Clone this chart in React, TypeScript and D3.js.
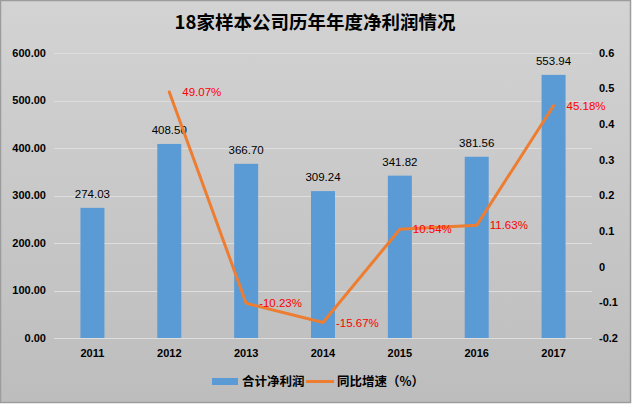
import React, { useEffect, useRef } from 'react';
import * as d3 from 'd3';

const years = ['2011', '2012', '2013', '2014', '2015', '2016', '2017'];
const netProfit = [274.03, 408.5, 366.7, 309.24, 341.82, 381.56, 553.94];
// growth rate, first year has no previous value
const growthRate = [null, 0.4907, -0.1023, -0.1567, 0.1054, 0.1163, 0.4518];
const leftTicks = [0, 100, 200, 300, 400, 500, 600];
const rightTicks = [-0.2, -0.1, 0, 0.1, 0.2, 0.3, 0.4, 0.5, 0.6];

const App = () => {
    const ref = useRef(null);

    useEffect(() => {
        const width = 632;
        const height = 404;
        const plot = { left: 54, right: 592, top: 53, bottom: 338 };
        const numFont = '"Liberation Sans", Arial, sans-serif';
        const cjkFont = '"Noto Sans CJK SC", "Noto Sans", sans-serif';

        const x = d3.scaleBand().domain(years).range([plot.left, plot.right]);
        const yLeft = d3.scaleLinear().domain([0, 600]).range([plot.bottom, plot.top]);
        const yRight = d3.scaleLinear().domain([-0.2, 0.6]).range([plot.bottom, plot.top]);
        const barWidth = 24;

        const svg = d3.select(ref.current);
        svg.selectAll('*').remove();
        svg.attr('width', width).attr('height', height);

        const grad = svg.append('defs').append('linearGradient')
            .attr('id', 'bg').attr('x1', 0).attr('y1', 0).attr('x2', 0).attr('y2', 1);
        grad.append('stop').attr('offset', '0%').attr('stop-color', '#d3d3d3');
        grad.append('stop').attr('offset', '100%').attr('stop-color', '#bdbdbd');

        svg.append('rect')
            .attr('x', 0.5).attr('y', 0.5)
            .attr('width', width - 2).attr('height', height - 2)
            .attr('fill', 'url(#bg)')
            .attr('stroke', '#9c9c9c')
            .attr('stroke-width', 1.5);

        // title
        svg.append('text')
            .attr('x', 315).attr('y', 29)
            .attr('text-anchor', 'middle')
            .style('font-family', cjkFont)
            .style('font-weight', 'bold')
            .style('font-size', '18.5px')
            .attr('fill', '#000')
            .text('18家样本公司历年年度净利润情况');

        // grid lines
        svg.append('g')
            .selectAll('line')
            .data(leftTicks)
            .join('line')
            .attr('x1', plot.left).attr('x2', plot.right)
            .attr('y1', d => Math.round(yLeft(d)) + 0.5)
            .attr('y2', d => Math.round(yLeft(d)) + 0.5)
            .attr('stroke', '#dedede')
            .attr('stroke-width', 1);

        // left axis labels
        svg.append('g')
            .selectAll('text')
            .data(leftTicks)
            .join('text')
            .attr('x', 46)
            .attr('y', d => yLeft(d))
            .attr('dy', '0.35em')
            .attr('text-anchor', 'end')
            .style('font-family', numFont)
            .style('font-weight', 'bold')
            .style('font-size', '11px')
            .text(d => d.toFixed(2));

        // right axis labels
        svg.append('g')
            .selectAll('text')
            .data(rightTicks)
            .join('text')
            .attr('x', 599)
            .attr('y', d => yRight(d))
            .attr('dy', '0.35em')
            .style('font-family', numFont)
            .style('font-weight', 'bold')
            .style('font-size', '11px')
            .text(d => (Math.abs(d) < 1e-9 ? '0' : String(+d.toFixed(1))));

        // x axis labels
        svg.append('g')
            .selectAll('text')
            .data(years)
            .join('text')
            .attr('x', d => x(d) + x.bandwidth() / 2)
            .attr('y', 353)
            .attr('dy', '0.35em')
            .attr('text-anchor', 'middle')
            .style('font-family', numFont)
            .style('font-weight', 'bold')
            .style('font-size', '11px')
            .text(d => d);

        // bars
        svg.append('g')
            .selectAll('rect')
            .data(netProfit)
            .join('rect')
            .attr('x', (d, i) => x(years[i]) + x.bandwidth() / 2 - barWidth / 2)
            .attr('y', d => yLeft(d))
            .attr('width', barWidth)
            .attr('height', d => yLeft(0) - yLeft(d))
            .attr('fill', '#5b9bd5');

        svg.append('g')
            .selectAll('text')
            .data(netProfit)
            .join('text')
            .attr('x', (d, i) => x(years[i]) + x.bandwidth() / 2)
            .attr('y', d => yLeft(d) - 10)
            .attr('text-anchor', 'middle')
            .style('font-family', numFont)
            .style('font-size', '11.5px')
            .attr('fill', '#000')
            .text(d => d.toFixed(2));

        // growth line
        const points = growthRate
            .map((v, i) => ({ year: years[i], v }))
            .filter(d => d.v !== null);

        const line = d3.line()
            .x(d => x(d.year) + x.bandwidth() / 2)
            .y(d => yRight(d.v));

        svg.append('path')
            .datum(points)
            .attr('d', line)
            .attr('fill', 'none')
            .attr('stroke', '#ed7d31')
            .attr('stroke-width', 3)
            .attr('stroke-linejoin', 'round')
            .attr('stroke-linecap', 'round');

        svg.append('g')
            .selectAll('text')
            .data(points)
            .join('text')
            .attr('x', d => x(d.year) + x.bandwidth() / 2 + 13)
            .attr('y', d => yRight(d.v))
            .attr('dy', '0.35em')
            .style('font-family', numFont)
            .style('font-size', '11.5px')
            .attr('fill', '#ff0000')
            .text(d => (d.v * 100).toFixed(2) + '%');

        // legend
        const legend = svg.append('g').style('font-family', cjkFont)
            .style('font-weight', 'bold').style('font-size', '12.5px');
        legend.append('rect')
            .attr('x', 212).attr('y', 378).attr('width', 26).attr('height', 7)
            .attr('fill', '#5b9bd5');
        legend.append('text').attr('x', 242).attr('y', 381.5).attr('dy', '0.35em')
            .text('合计净利润');
        legend.append('line')
            .attr('x1', 306).attr('x2', 334).attr('y1', 381.5).attr('y2', 381.5)
            .attr('stroke', '#ed7d31').attr('stroke-width', 3);
        legend.append('text').attr('x', 337).attr('y', 381.5).attr('dy', '0.35em')
            .text('同比增速（%）');
    }, []);

    return (
        <div style={{ position: 'absolute', left: 0, top: 0 }}>
            <svg ref={ref} style={{ display: 'block' }}></svg>
        </div>
    );
};

export default App;
